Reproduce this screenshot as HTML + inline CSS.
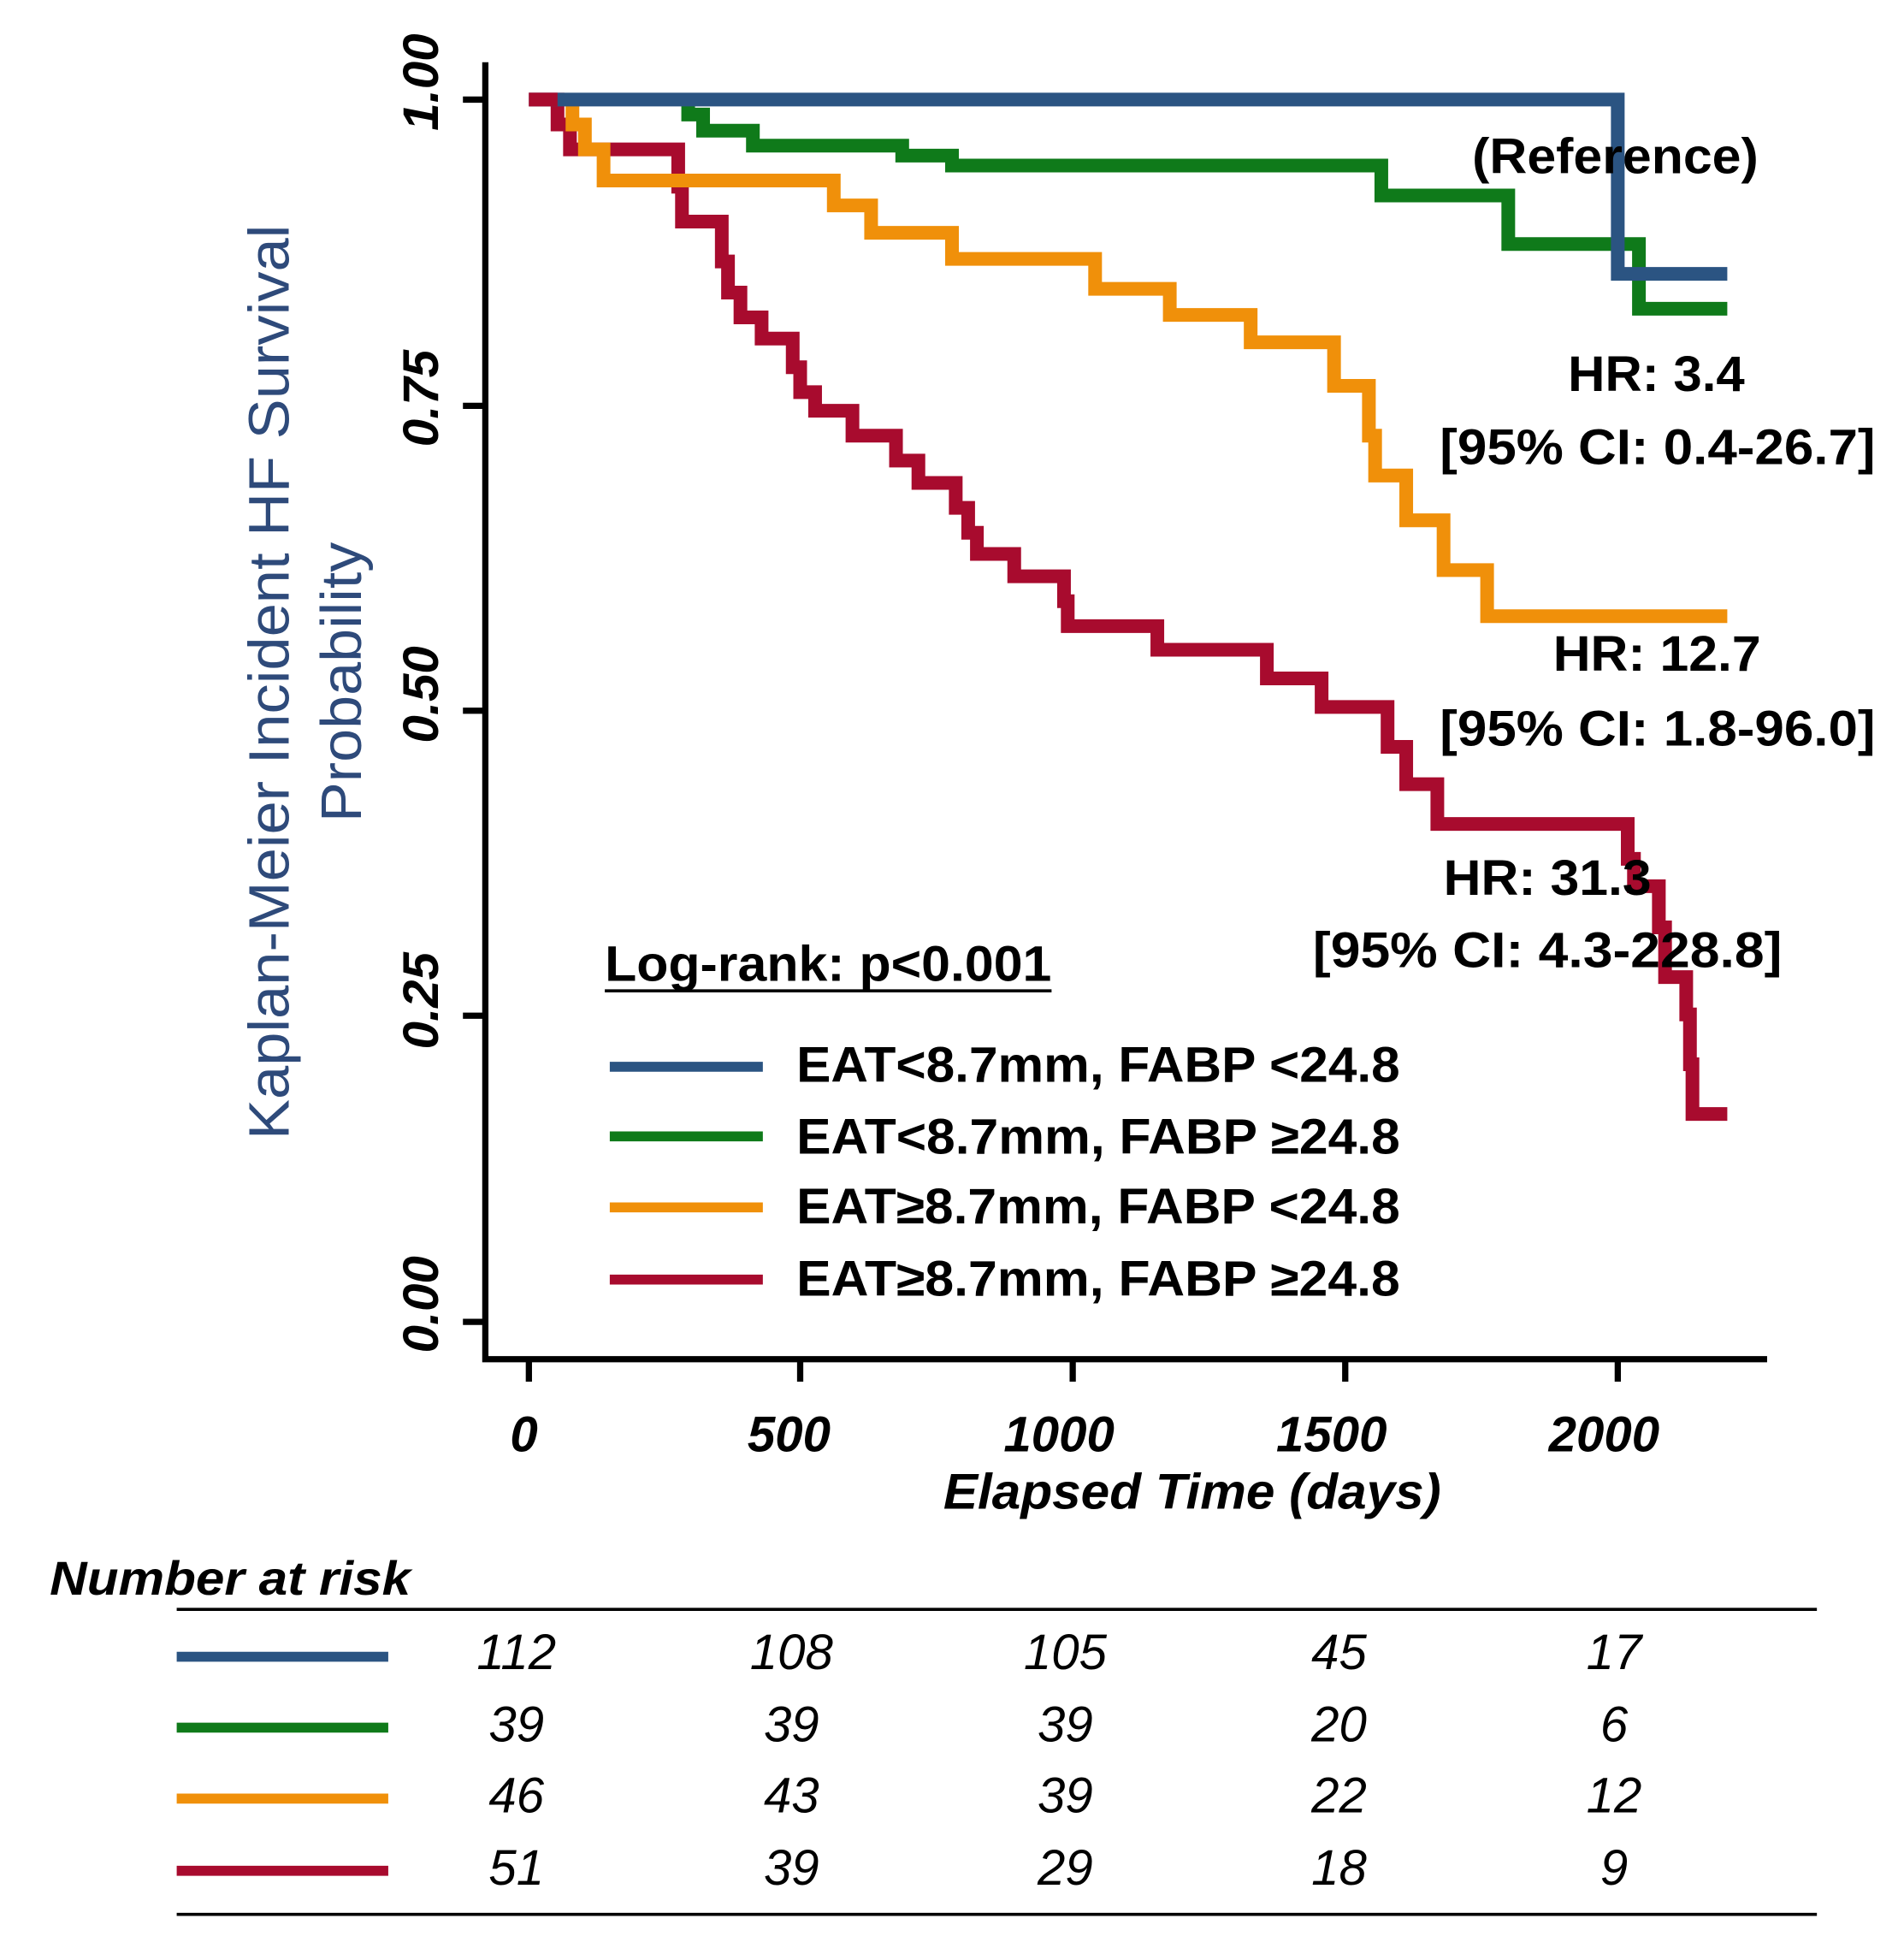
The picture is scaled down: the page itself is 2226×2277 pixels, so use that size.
<!DOCTYPE html>
<html><head><meta charset="utf-8"><style>html,body{margin:0;padding:0;background:#fff}svg{display:block}</style></head>
<body>
<svg width="2226" height="2277" viewBox="0 0 1530 1565" xmlns="http://www.w3.org/2000/svg" font-family="Liberation Sans, sans-serif">
<rect width="1530" height="1565" fill="#fff"/>
<g stroke="#000" stroke-width="5" fill="none">
<path d="M390,50 V1092 H1420"/>
<path d="M372,80 H390 M372,326 H390 M372,571 H390 M372,816 H390 M372,1062 H390"/>
<path d="M425,1092 V1110 M643,1092 V1110 M862,1092 V1110 M1081,1092 V1110 M1300,1092 V1110"/>
</g>
<g font-weight="bold" font-style="italic" font-size="40" text-anchor="middle">
<text transform="translate(352,66) rotate(-90)">1.00</text>
<text transform="translate(352,320) rotate(-90)">0.75</text>
<text transform="translate(352,558) rotate(-90)">0.50</text>
<text transform="translate(352,804) rotate(-90)">0.25</text>
<text transform="translate(352,1048) rotate(-90)">0.00</text>
<text x="421" y="1166">0</text><text x="634" y="1166">500</text><text x="851" y="1166">1000</text><text x="1070" y="1166">1500</text><text x="1289" y="1166">2000</text>
<text x="958" y="1212" textLength="400" lengthAdjust="spacingAndGlyphs">Elapsed Time (days)</text>
</g>
<g fill="#2e4a7a" font-size="46" text-anchor="middle">
<text transform="translate(232,548) rotate(-90)" textLength="735" lengthAdjust="spacingAndGlyphs">Kaplan-Meier Incident HF Survival</text>
<text transform="translate(290,548) rotate(-90)" textLength="225" lengthAdjust="spacingAndGlyphs">Probability</text>
</g>
<g fill="none" stroke-width="11" stroke-linejoin="miter">
<path stroke="#a80b2e" d="M425,80 H448 V100 H458 V120 H545 V150 H548 V178 H580 V210 H585 V235 H595 V255 H612 V272 H637 V295 H643 V315 H655 V330 H685 V350 H720 V370 H738 V388 H768 V408 H778 V428 H785 V445 H815 V463 H855 V483 H858 V503 H930 V522 H1018 V545 H1062 V568 H1115 V600 H1130 V630 H1155 V662 H1308 V690 H1313 V712 H1333 V745 H1338 V785 H1355 V815 H1358 V855 H1360 V895 H1388"/>
<path stroke="#f0900a" d="M460,80 V100 H470 V120 H485 V145 H670 V165 H700 V187 H765 V208 H880 V232 H940 V253 H1005 V275 H1072 V310 H1100 V350 H1105 V382 H1130 V418 H1160 V458 H1195 V495 H1388"/>
<path stroke="#0f7a1a" d="M553,80 V92 H565 V105 H605 V117 H725 V125 H765 V133 H1110 V157 H1212 V196 H1317 V248 H1388"/>
<path stroke="#2b5482" d="M425,80 H1300 V220 H1388"/>
<path stroke="#a80b2e" d="M425,80 H448"/>
</g>
<g font-weight="bold" font-size="40" fill="#000">
<text x="1183" y="139" textLength="230" lengthAdjust="spacingAndGlyphs">(Reference)</text>
<text x="1260" y="314" textLength="142" lengthAdjust="spacingAndGlyphs">HR: 3.4</text>
<text x="1157" y="373" textLength="350" lengthAdjust="spacingAndGlyphs">[95% CI: 0.4-26.7]</text>
<text x="1248" y="539" textLength="167" lengthAdjust="spacingAndGlyphs">HR: 12.7</text>
<text x="1157" y="599" textLength="350" lengthAdjust="spacingAndGlyphs">[95% CI: 1.8-96.0]</text>
<text x="1160" y="719" textLength="167" lengthAdjust="spacingAndGlyphs">HR: 31.3</text>
<text x="1055" y="777" textLength="377" lengthAdjust="spacingAndGlyphs">[95% CI: 4.3-228.8]</text>
<text x="486" y="788" textLength="359" lengthAdjust="spacingAndGlyphs">Log-rank: p&lt;0.001</text>
<text x="640" y="869" textLength="485" lengthAdjust="spacingAndGlyphs">EAT&lt;8.7mm, FABP &lt;24.8</text>
<text x="640" y="927" textLength="485" lengthAdjust="spacingAndGlyphs">EAT&lt;8.7mm, FABP ≥24.8</text>
<text x="640" y="983" textLength="485" lengthAdjust="spacingAndGlyphs">EAT≥8.7mm, FABP &lt;24.8</text>
<text x="640" y="1041" textLength="485" lengthAdjust="spacingAndGlyphs">EAT≥8.7mm, FABP ≥24.8</text>
</g>
<line x1="486" y1="796" x2="845" y2="796" stroke="#000" stroke-width="2.5"/>
<g stroke-width="8">
<line x1="490" y1="857" x2="613" y2="857" stroke="#2b5482"/>
<line x1="490" y1="913" x2="613" y2="913" stroke="#0f7a1a"/>
<line x1="490" y1="970" x2="613" y2="970" stroke="#f0900a"/>
<line x1="490" y1="1028" x2="613" y2="1028" stroke="#a80b2e"/>
<line x1="142" y1="1331" x2="312" y2="1331" stroke="#2b5482"/>
<line x1="142" y1="1388" x2="312" y2="1388" stroke="#0f7a1a"/>
<line x1="142" y1="1445" x2="312" y2="1445" stroke="#f0900a"/>
<line x1="142" y1="1503" x2="312" y2="1503" stroke="#a80b2e"/>
</g>
<line x1="142" y1="1293" x2="1460" y2="1293" stroke="#000" stroke-width="2.5"/>
<line x1="142" y1="1538" x2="1460" y2="1538" stroke="#000" stroke-width="2.5"/>
<text x="40" y="1281" font-weight="bold" font-style="italic" font-size="38" textLength="290" lengthAdjust="spacingAndGlyphs">Number at risk</text>
<g font-style="italic" font-size="40" text-anchor="middle">
<text x="415" y="1341">112</text><text x="636" y="1341">108</text><text x="856" y="1341">105</text><text x="1076" y="1341">45</text><text x="1297" y="1341">17</text>
<text x="415" y="1399">39</text><text x="636" y="1399">39</text><text x="856" y="1399">39</text><text x="1076" y="1399">20</text><text x="1297" y="1399">6</text>
<text x="415" y="1456">46</text><text x="636" y="1456">43</text><text x="856" y="1456">39</text><text x="1076" y="1456">22</text><text x="1297" y="1456">12</text>
<text x="415" y="1514">51</text><text x="636" y="1514">39</text><text x="856" y="1514">29</text><text x="1076" y="1514">18</text><text x="1297" y="1514">9</text>
</g>
</svg>
</body></html>
